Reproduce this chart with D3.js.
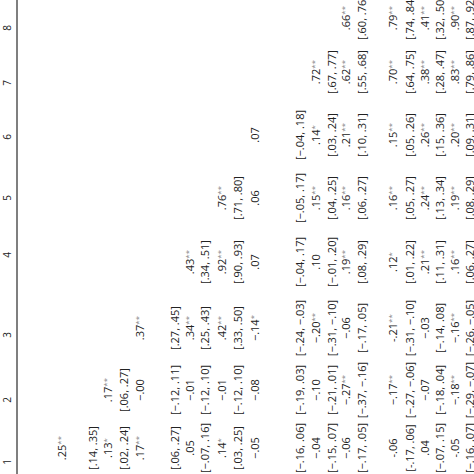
<!DOCTYPE html><html><head><meta charset="utf-8">
<script src="https://cdn.jsdelivr.net/npm/d3@7"></script>
<style>body{margin:0;background:#fff}</style></head><body>
<script>
const headers = ["1","2","3","4","5","6","7","8"];
const rowPos = [62,93,108,124,140,175,190,205,222,238,255,300,316,332,346,362,393,410,425,440,455,470];
const rows = [
 [".25**"],
 ["[.14, .35]"],
 [".13*", ".17**"],
 ["[.02, .24]", "[.06, .27]"],
 [".17**", "\u2212.00", ".37**"],
 ["[.06, .27]", "[\u2212.12, .11]", "[.27, .45]"],
 [".05", "\u2212.01", ".34**", ".43**"],
 ["[\u2212.07, .16]", "[\u2212.12, .10]", "[.25, .43]", "[.34, .51]"],
 [".14*", "\u2212.01", ".42**", ".92**", ".76**"],
 ["[.03, .25]", "[\u2212.12, .10]", "[.33, .50]", "[.90, .93]", "[.71, .80]"],
 ["\u2212.05", "\u2212.08", "\u2212.14*", ".07", ".06", ".07"],
 ["[\u2212.16, .06]", "[\u2212.19, .03]", "[\u2212.24, \u2212.03]", "[\u2212.04, .17]", "[\u2212.05, .17]", "[\u2212.04, .18]"],
 ["\u2212.04", "\u2212.10", "\u2212.20**", ".10", ".15**", ".14*", ".72**"],
 ["[\u2212.15, .07]", "[\u2212.21, .01]", "[\u2212.31, \u2212.10]", "[\u2212.01, .20]", "[.04, .25]", "[.03, .24]", "[.67, .77]"],
 ["\u2212.06", "\u2212.27**", "\u2212.06", ".19**", ".16**", ".21**", ".62**", ".66**"],
 ["[\u2212.17, .05]", "[\u2212.37, \u2212.16]", "[\u2212.17, .05]", "[.08, .29]", "[.06, .27]", "[.10, .31]", "[.55, .68]", "[.60, .76]"],
 ["-.06", "\u2212.17**", "-.21**", ".12*", ".16**", ".15**", ".70**", ".79**"],
 ["[-.17, .06]", "[\u2212.27, \u2212.06]", "[\u2212.31, \u2212.10]", "[.01, .22]", "[.05, .27]", "[.05, .26]", "[.64, .75]", "[.74, .84]"],
 [".04", "\u2212.07", "\u2212.03", ".21**", ".24**", ".26**", ".38**", ".41**"],
 ["[\u2212.07, .15]", "[\u2212.18, .04]", "[\u2212.14, .08]", "[.11, .31]", "[.13, .34]", "[.15, .36]", "[.28, .47]", "[.32, .50]"],
 ["-.05", "\u2212.18**", "\u2212.16**", ".16**", ".19**", ".20**", ".83**", ".90**"],
 ["[\u2212.16, .07]", "[\u2212.29, \u2212.07]", "[\u2212.26, \u2212.05]", "[.06, .27]", "[.08, .29]", "[.09, .31]", "[.79, .86]", "[.87, .92]"]
];
const colCenters = [448,390,328,262,198,135,72,18];
const headerPos = [462,400,335,255,198,137,83,28];

const W=474,H=474;
const svg=d3.select("body").append("svg").attr("width",W).attr("height",H);
const g=svg.append("g").attr("transform",`translate(0,${H}) rotate(-90)`);
const u=d3.scaleLinear().domain([0,H]).range([H,0]);
const font="'Open Sans', 'DejaVu Sans', sans-serif";
g.selectAll("text.h").data(headers).join("text").attr("class","h")
 .attr("x",(d,i)=>u(headerPos[i])).attr("y",7).attr("dy","0.35em")
 .attr("text-anchor","middle").attr("font-family",font).attr("font-size",10).attr("fill","#222").text(d=>d);
g.append("line").attr("x1",0).attr("x2",H).attr("y1",17).attr("y2",17).attr("stroke","#555").attr("stroke-width",1.5);
rows.forEach((r,ri)=>{
  r.forEach((cell,ci)=>{
    const m=cell.match(/^(.*?)(\*+)?$/);
    const t=g.append("text").attr("x",u(colCenters[ci])).attr("y",rowPos[ri]).attr("dy","0.35em")
      .attr("text-anchor","middle").attr("font-family",font).attr("font-size",11).attr("fill","#222");
    t.append("tspan").text(m[1]);
    if(m[2]) t.append("tspan").attr("dy","-0.35em").attr("font-size",8).attr("fill","#888").text(m[2]);
  });
});
</script></body></html>
